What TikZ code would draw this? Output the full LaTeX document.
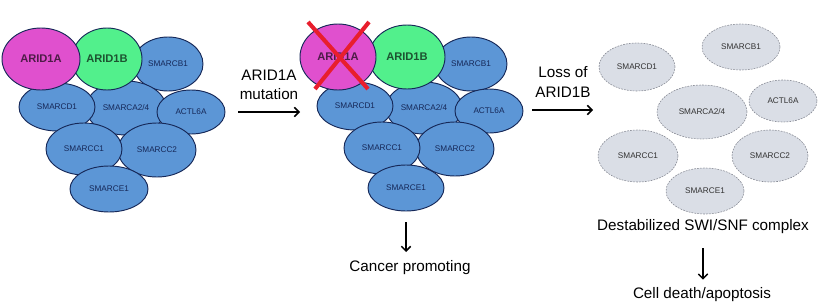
\documentclass[tikz,border=0pt]{standalone}
\usepackage{fontspec}
\setmainfont{Liberation Sans}
\definecolor{subblue}{RGB}{92, 150, 214}
\definecolor{subline}{RGB}{22, 40, 88}
\definecolor{aridpink}{RGB}{224, 80, 206}
\definecolor{aridgreen}{RGB}{82, 240, 140}
\definecolor{lostgray}{RGB}{218, 222, 230}
\definecolor{lostline}{RGB}{135, 138, 148}
\definecolor{crossred}{RGB}{232, 30, 45}
\usepackage{xcolor}
\usepackage{tikz}
\usetikzlibrary{shapes.geometric,arrows.meta}

\tikzset{
  sz/.style 2 args={minimum width=#1*0.06cm, minimum height=#2*0.06cm},
  sub/.style={ellipse, inner sep=0pt, line width=0.8pt, draw=subline, fill=subblue,
    text=subline, font=\fontsize{7}{8}\selectfont},
  arid/.style={sub, text=#1!35!black, font=\fontsize{9.5}{11}\selectfont\bfseries, fill=#1},
  lost/.style={ellipse, inner sep=0pt, line width=0.5pt, draw=lostline, fill=lostgray,
    dash pattern=on 1.5pt off 1pt, text=black!80, font=\fontsize{7}{8}\selectfont},
  caption/.style={inner sep=0pt, align=center, font=\fontsize{13}{16.5}\selectfont},
  arr/.style={line width=1.3pt, -{Straight Barb[length=4pt,width=8pt]}}
}

\begin{document}
\begin{tikzpicture}[x=0.03cm, y=-0.03cm]
        \useasboundingbox (0,0) rectangle (835,307);
        % intact complex
        \node[sub, sz={35}{27}] (lB1)  at (168,64)  {SMARCB1};
        \node[sub, sz={40}{27}] (lA24) at (126,108) {SMARCA2/4};
        \node[sub, sz={34}{22}] (lACT) at (191,112) {ACTL6A};
        \node[sub, sz={38}{24}] (lD1)  at (57,107)  {SMARCD1};
        \node[sub, sz={39}{27}] (lC2)  at (157,150) {SMARCC2};
        \node[sub, sz={38}{26}] (lC1)  at (84,149)  {SMARCC1};
        \node[sub, sz={39}{23}] (lE1)  at (109,189) {SMARCE1};
        \node[arid=aridgreen, sz={35}{31}] (lA1B) at (107,59) {ARID1B};
        \node[arid=aridpink,  sz={39}{31}] (lA1A) at (41,59)  {ARID1A};

        \node[caption] (mut) at (269,85) {ARID1A\\mutation};
        \coordinate (mutS) at (238,112);
        \coordinate (mutE) at (300,112);
        \draw[arr] (mutS) -- (mutE);

        % complex without ARID1A
        \node[sub, sz={36}{27}] (mB1)  at (471,64)  {SMARCB1};
        \node[sub, sz={38}{26}] (mA24) at (424,108) {SMARCA2/4};
        \node[sub, sz={34}{22}] (mACT) at (489,111) {ACTL6A};
        \node[sub, sz={38}{24}] (mD1)  at (355,106) {SMARCD1};
        \node[sub, sz={39}{27}] (mC2)  at (455,149) {SMARCC2};
        \node[sub, sz={38}{26}] (mC1)  at (382,148) {SMARCC1};
        \node[sub, sz={38}{23}] (mE1)  at (406,188) {SMARCE1};
        \node[arid=aridgreen, sz={38}{32}] (mA1B) at (407,57) {ARID1B};
        \node[arid=aridpink,  sz={38}{33}] (mA1A) at (338,57) {ARID1A};
        \coordinate (crossA) at (308,22);
        \coordinate (crossB) at (368,89);
        \coordinate (crossC) at (369,22);
        \coordinate (crossD) at (315,89);
        \draw[crossred, line width=3.5pt] (crossA) -- (crossB);
        \draw[crossred, line width=3.5pt] (crossC) -- (crossD);

        \node[caption] (cancer) at (410,268) {Cancer promoting};
        \draw[arr, shorten <=9.4pt, shorten >=7.4pt] (mE1.south) -- (mE1.south |- cancer.north);

        \node[caption] (loss) at (563,82) {Loss of\\ARID1B};
        \coordinate (lossS) at (532,110);
        \coordinate (lossE) at (593,110);
        \draw[arr] (lossS) -- (lossE);

        % fallen apart
        \node[lost, sz={39}{23}] (rB1)  at (741,47)  {SMARCB1};
        \node[lost, sz={38}{24}] (rD1)  at (637,67)  {SMARCD1};
        \node[lost, sz={45}{27}] (rA24) at (702,112) {SMARCA2/4};
        \node[lost, sz={34}{21}] (rACT) at (783,101) {ACTL6A};
        \node[lost, sz={40}{26}] (rC1)  at (638,156) {SMARCC1};
        \node[lost, sz={38}{26}] (rC2)  at (770,156) {SMARCC2};
        \node[lost, sz={39}{23}] (rE1)  at (705,191) {SMARCE1};

        \node[caption] (dest)  at (703,227) {Destabilized SWI/SNF complex};
        \node[caption] (death) at (702,295) {Cell death/apoptosis};
        \draw[arr, shorten <=12pt, shorten >=6.8pt] (dest.south) -- (dest.south |- death.north);
      \end{tikzpicture}
\end{document}
